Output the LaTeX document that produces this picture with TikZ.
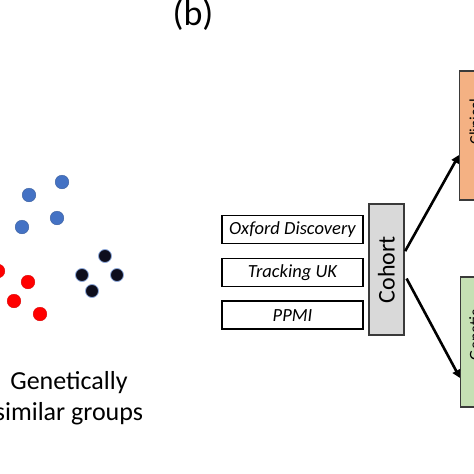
\documentclass[tikz,border=0pt]{standalone}
\usepackage{fontspec}
\setmainfont{Carlito}
\usepackage{graphicx}
\usetikzlibrary{arrows.meta,positioning,calc}
\definecolor{cohgray}{HTML}{D9D9D9}
\definecolor{clinorange}{HTML}{F4B183}
\definecolor{gengreen}{HTML}{C5E0B4}
\definecolor{dotblue}{HTML}{4472C4}
\definecolor{dotred}{HTML}{FF0000}
\definecolor{dotdark}{HTML}{0D0D1C}
\definecolor{edgegray}{HTML}{3A3A3A}

\begin{document}
\begin{tikzpicture}[
  x=1pt,y=-1pt,
  every node/.style={align=center,inner sep=0pt},
  flow/.style={-{Triangle[length=8pt,width=8pt]},line width=2.6pt,draw=black},
  srcbox/.style={draw=black,line width=1.3pt,fill=white,minimum width=141pt,minimum height=28pt,font=\fontsize{18.5}{22}\selectfont\itshape},
  cohortbox/.style={draw=edgegray,line width=1.3pt,fill=cohgray,minimum width=35pt,minimum height=131pt},
  clinbox/.style={draw=edgegray,line width=1.2pt,fill=clinorange,minimum width=30pt,minimum height=129pt},
  genbox/.style={draw=edgegray,line width=1.2pt,fill=gengreen,minimum width=30pt,minimum height=130pt},
  sidetext/.style={font=\fontsize{16}{19}\selectfont}
]
\useasboundingbox (0,0) rectangle (474,474);
\clip (0,0) rectangle (474,474);

% title
\node[font=\fontsize{36}{40}\selectfont] (title) at (193,15) {(b)};

% clusters
\foreach \px/\py in {62/182,29/195,57/218,22/227}
  \fill[dotblue,draw=dotblue!80!black,line width=0.4pt] (\px,\py) circle (6.8pt);
\foreach \px/\py in {-2/271,28/282,14/301,40/314}
  \fill[dotred,draw=red!85!black,line width=0.4pt] (\px,\py) circle (6.8pt);
\foreach \px/\py in {105/256,82/275,117/275,92/291}
  \fill[dotdark,draw=dotblue!60,line width=0.8pt] (\px,\py) circle (6.5pt);
\node[font=\fontsize{26}{31}\selectfont] (groups) at (69,398) {Genetically\\similar groups};

% cohorts
\node[srcbox] (oxford) at (292.5,229.5) {Oxford Discovery};
\node[srcbox,below=14pt of oxford] (tracking) {Tracking UK};
\node[srcbox,below=13pt of tracking] (ppmi) {PPMI};
\node[cohortbox] (cohort) at (386.5,269.5) {\rotatebox{90}{\fontsize{24}{28}\selectfont Cohort}};

% data types
\node[clinbox,anchor=west] (clin) at (459,135.5) {};
\node[sidetext] (clintext) at (475,121.5) {\rotatebox{90}{Clinical}};
\node[genbox,anchor=west] (gen) at (460,342) {};
\node[sidetext] (gentext) at (475,335) {\rotatebox{90}{Genetic}};

\draw[flow,shorten <=1pt] ([yshift=17.5pt]cohort.east) -- ([yshift=-19.5pt]clin.west);
\draw[flow,shorten <=4pt] ([yshift=-5.5pt]cohort.east) -- ([yshift=-36pt]gen.west);
\end{tikzpicture}
\end{document}
